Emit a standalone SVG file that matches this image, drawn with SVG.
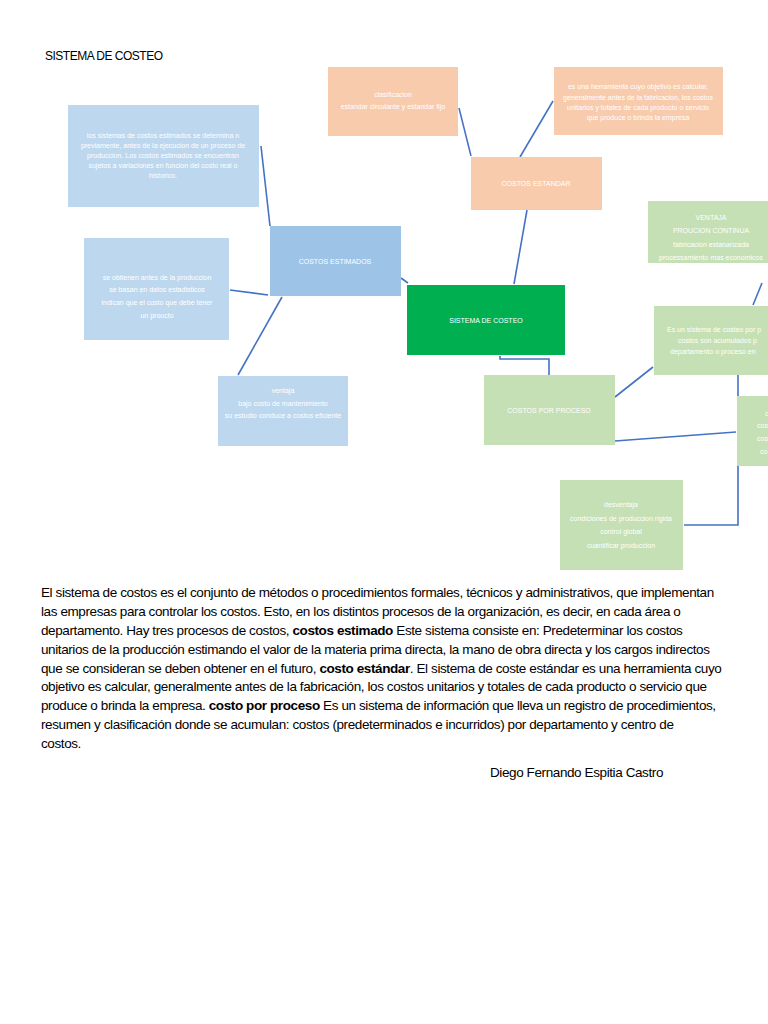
<svg xmlns="http://www.w3.org/2000/svg" width="768" height="1024" viewBox="0 0 768 1024">
<style>
.bt{font-family:"Liberation Sans Narrow","Liberation Sans",sans-serif;font-size:7px;fill:#ffffff;text-anchor:middle}
.bs{font-family:"Liberation Sans Narrow","Liberation Sans",sans-serif;font-size:7px;fill:#ffffff}
.p{font-family:"Liberation Sans",sans-serif;font-size:13.5px;letter-spacing:-0.4px;fill:#000000}
.b{font-weight:bold}
.blue{fill:#bdd7ee}
.blue2{fill:#9dc3e6}
.peach{fill:#f8cbad}
.green{fill:#c5e0b4}
.dg{fill:#00b050}
.c{stroke:#4472c4;stroke-width:1.6;fill:none}
</style>
<rect width="768" height="1024" fill="#ffffff"/>
<text x="45" y="60" font-family="Liberation Sans,sans-serif" font-size="12" letter-spacing="-0.5">SISTEMA DE COSTEO</text>

<g id="connectors">
<path class="c" d="M261,146 L270,226"/>
<path class="c" d="M459,108 L471,156"/>
<path class="c" d="M553,101 L520,157"/>
<path class="c" d="M527,210 L514,284"/>
<path class="c" d="M401,278 L408,283"/>
<path class="c" d="M230,290 L268,295"/>
<path class="c" d="M282,297 L238,375"/>
<path class="c" d="M500,356 V359 H549 V375"/>
<path class="c" d="M615,397 L653,367"/>
<path class="c" d="M615,441 L736,432"/>
<path class="c" d="M753,305 L762,283"/>
<path class="c" d="M738,375 V396"/>
<path class="c" d="M738,466 V525 H684"/>
</g>

<g id="n_estimados_desc">
<rect class="blue" x="68" y="105" width="191" height="102"/>
<text class="bt" x="163" y="138">los sistemas de costos estimados se determina n</text>
<text class="bt" x="163" y="148">previamente, antes de la ejecucion de un proceso de</text>
<text class="bt" x="163" y="158">produccion. Los costos estimados se encuentran</text>
<text class="bt" x="163" y="168">sujetos a variaciones en funcion del costo real o</text>
<text class="bt" x="163" y="178">historico.</text>
</g>

<g id="n_clasificacion">
<rect class="peach" x="328" y="67" width="130" height="69"/>
<text class="bt" x="393" y="97">clasificacion</text>
<text class="bt" x="393" y="109">estandar circulante  y estandar fijo</text>
</g>

<g id="n_estandar_desc">
<rect class="peach" x="554" y="67" width="169" height="68"/>
<text class="bt" x="638" y="89">es una herramienta cuyo objetivo es calcular,</text>
<text class="bt" x="638" y="100">generalmente antes de la fabricacion, los costos</text>
<text class="bt" x="638" y="110">unitarios y totales de cada producto o servicio</text>
<text class="bt" x="638" y="120">que produce o brinda la empresa</text>
</g>

<g id="n_costos_estandar">
<rect class="peach" x="471" y="157" width="131" height="53"/>
<text class="bt" x="536" y="186">COSTOS ESTANDAR</text>
</g>

<g id="n_costos_estimados">
<rect class="blue2" x="270" y="226" width="131" height="70"/>
<text class="bt" x="335" y="264">COSTOS ESTIMADOS</text>
</g>

<g id="n_estimados_obtiene">
<rect class="blue" x="84" y="238" width="145" height="102"/>
<text class="bt" x="157" y="280">se obtienen antes de la produccion</text>
<text class="bt" x="157" y="292">se basan en datos estadisticos</text>
<text class="bt" x="157" y="305">indican que  el costo que debe tener</text>
<text class="bt" x="157" y="318">un proucto</text>
</g>

<g id="n_sistema">
<rect class="dg" x="407" y="285" width="158" height="70"/>
<text class="bt" x="486" y="323">SISTEMA DE COSTEO</text>
</g>

<g id="n_ventaja_estimados">
<rect class="blue" x="218" y="376" width="130" height="70"/>
<text class="bt" x="283" y="393">ventaja</text>
<text class="bt" x="283" y="406">bajo costo de mantenimiento</text>
<text class="bt" x="283" y="418">su estudio  conduce a costos  eficiente</text>
</g>

<g id="n_costos_proceso">
<rect class="green" x="484" y="375" width="131" height="70"/>
<text class="bt" x="549" y="413">COSTOS POR PROCESO</text>
</g>

<g id="n_ventaja_proceso">
<rect class="green" x="648" y="201" width="130" height="62"/>
<text class="bt" x="711" y="220">VENTAJA</text>
<text class="bt" x="711" y="233">PROUCION CONTINUA</text>
<text class="bt" x="711" y="247">fabricacion estanarizada</text>
<text class="bt" x="711" y="260">processamiento mas economicos</text>
</g>

<g id="n_proceso_desc">
<rect class="green" x="654" y="306" width="120" height="69"/>
<text class="bs" x="667" y="332">Es un sistema de costeo por p</text>
<text class="bs" x="678" y="343">costos son acumulados p</text>
<text class="bs" x="670" y="354">departamento o proceso en</text>
</g>

<g id="n_proceso_partial">
<rect class="green" x="737" y="396" width="40" height="70"/>
<text class="bs" x="765" y="416">c</text>
<text class="bs" x="757" y="428">cos</text>
<text class="bs" x="757" y="441">cos</text>
<text class="bs" x="760" y="454">co</text>
</g>

<g id="n_desventaja">
<rect class="green" x="560" y="480" width="123" height="90"/>
<text class="bt" x="621" y="507">desventaja</text>
<text class="bt" x="621" y="521">condiciones de produccion rigida</text>
<text class="bt" x="621" y="534">control global</text>
<text class="bt" x="621" y="548">cuantificar produccion</text>
</g>

<g id="paragraph">
<text class="p" x="41" y="597">El sistema de costos es el conjunto de métodos o procedimientos formales, técnicos y administrativos, que implementan</text>
<text class="p" x="41" y="616">las empresas para controlar los costos. Esto, en los distintos procesos de la organización, es decir, en cada área o</text>
<text class="p" x="41" y="635">departamento. Hay tres procesos de costos, <tspan class="b">costos estimado</tspan> Este sistema consiste en: Predeterminar los costos</text>
<text class="p" x="41" y="654">unitarios de la producción estimando el valor de la materia prima directa, la mano de obra directa y los cargos indirectos</text>
<text class="p" x="41" y="673">que se consideran se deben obtener en el futuro, <tspan class="b">costo estándar</tspan>. El sistema de coste estándar es una herramienta cuyo</text>
<text class="p" x="41" y="691">objetivo es calcular, generalmente antes de la fabricación, los costos unitarios y totales de cada producto o servicio que</text>
<text class="p" x="41" y="710">produce o brinda la empresa. <tspan class="b">costo por proceso</tspan> Es un sistema de información que lleva un registro de procedimientos,</text>
<text class="p" x="41" y="729">resumen y clasificación donde se acumulan: costos (predeterminados e incurridos) por departamento y centro de</text>
<text class="p" x="41" y="748">costos.</text>
<text class="p" x="490" y="777">Diego Fernando Espitia Castro</text>
</g>
</svg>
